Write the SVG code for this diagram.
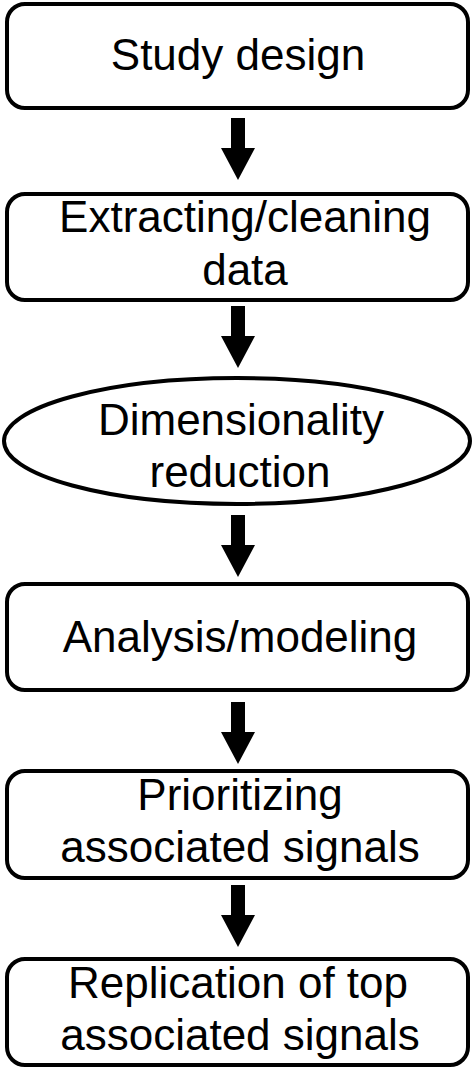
<svg xmlns="http://www.w3.org/2000/svg" xmlns:xlink="http://www.w3.org/1999/xlink" width="474" height="1069" viewBox="0 0 474 1069">
<style>
.box{fill:#fff;stroke:#000;stroke-width:4}
.lbl{font-family:"Liberation Sans",Arial,sans-serif;font-size:44px;fill:#000;text-anchor:middle}
.arr{fill:#000}
</style>
<defs>
<path id="arrow" d="M-7,0 H7 V30 H17 L0,62 L-17,30 H-7 Z"/>
</defs>
<rect width="474" height="1069" fill="#fff"/>
<g id="connectors">
<use xlink:href="#arrow" class="arr" transform="translate(238,118)"/>
<use xlink:href="#arrow" class="arr" transform="translate(238,306)"/>
<use xlink:href="#arrow" class="arr" transform="translate(238,515)"/>
<use xlink:href="#arrow" class="arr" transform="translate(238,702)"/>
<use xlink:href="#arrow" class="arr" transform="translate(238,885)"/>
</g>
<g id="node1">
<rect class="box" x="7" y="4" width="461" height="104" rx="18"/>
<text class="lbl" x="238" y="70">Study design</text>
</g>
<g id="node2">
<rect class="box" x="7" y="194" width="461" height="106" rx="18"/>
<text class="lbl" x="245" y="232">Extracting/cleaning</text>
<text class="lbl" x="245" y="285">data</text>
</g>
<g id="node3">
<ellipse class="box" cx="237" cy="441" rx="233" ry="63"/>
<text class="lbl" x="241" y="435">Dimensionality</text>
<text class="lbl" x="240" y="487">reduction</text>
</g>
<g id="node4">
<rect class="box" x="7" y="584" width="461" height="106" rx="18"/>
<text class="lbl" x="240" y="652">Analysis/modeling</text>
</g>
<g id="node5">
<rect class="box" x="7" y="771" width="461" height="107" rx="18"/>
<text class="lbl" x="240" y="810">Prioritizing</text>
<text class="lbl" x="240" y="862">associated signals</text>
</g>
<g id="node6">
<rect class="box" x="7" y="959" width="461" height="106" rx="18"/>
<text class="lbl" x="238" y="998">Replication of top</text>
<text class="lbl" x="240" y="1050">associated signals</text>
</g>
</svg>
